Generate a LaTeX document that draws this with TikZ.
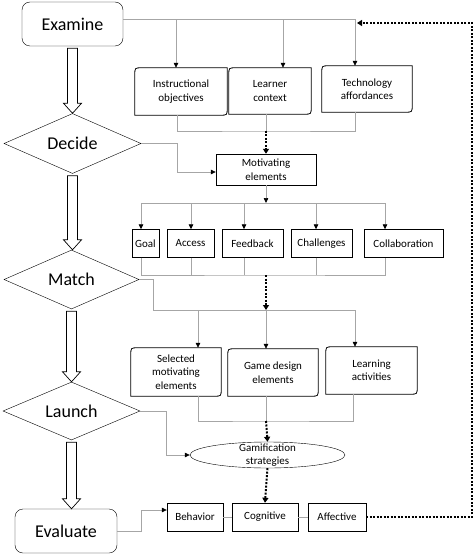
\documentclass[tikz,border=0pt]{standalone}
\usepackage{fontspec}
\setmainfont{Carlito}
\usetikzlibrary{shapes.geometric,arrows.meta,calc}

\newcommand{\hollowarrow}[2]{%
  \draw[line width=0.7pt] let \p1 = (#1.south), \p2 = (#2.north) in
    (\x1-5pt,\y1-2pt) -- (\x1-5pt,\y2+10pt) -- (\x1-9pt,\y2+10pt) -- (\x1,\y2)
    -- (\x1+9pt,\y2+10pt) -- (\x1+5pt,\y2+10pt) -- (\x1+5pt,\y1-2pt) -- cycle;}

\begin{document}
\begin{tikzpicture}[x=1pt, y=-1pt,
    big/.style = {font=\fontsize{18}{20}\selectfont, inner sep=0pt},
    stage/.style = {big, draw, rounded corners=8pt, minimum width=101pt, minimum height=44pt},
    decision/.style = {big, draw, diamond, aspect=2.2, minimum width=137pt, minimum height=60pt},
    small/.style = {font=\fontsize{11}{13.5}\selectfont, align=center, inner sep=1pt},
    cornerbox/.style = {small, minimum height=47pt},
    elem/.style = {small, draw, minimum height=28pt},
    line/.style = {draw=gray!70, line width=0.7pt},
    arr/.style = {line, -{Triangle[length=5pt, width=4.5pt, color=black]}},
    dotarr/.style = {line width=2pt, dash pattern=on 2pt off 1.5pt,
                     -{Triangle[length=5pt, width=6pt]}}
    ]
    \useasboundingbox (0,0) rectangle (474,556);

    % stages on the left
    \node[stage] (examine) at (72.5,24) {Examine};
    \node[decision] (decide) at (72.5,143.5) {Decide};
    \node[decision, minimum width=135pt, minimum height=59pt] (match) at (71.5,279.5) {Match};
    \node[decision, minimum height=58pt] (launch) at (71.5,411) {Launch};
    \node[stage, minimum width=102pt] (evaluate) at (66,531) {Evaluate};

    \hollowarrow{examine}{decide}
    \hollowarrow{decide}{match}
    \hollowarrow{match}{launch}
    \hollowarrow{launch}{evaluate}

    % examine
    \node[cornerbox, minimum width=92pt] (instr) at (181,91.5) {Instructional\\objectives};
    \node[cornerbox, minimum width=82pt, minimum height=46pt] (learner) at (270,91) {Learner\\context};
    \node[cornerbox, minimum width=90pt, minimum height=46pt] (tech) at (367,89) {Technology\\affordances};

    % decide
    \node[elem, minimum width=100pt, minimum height=31pt] (motiv) at (266,169.5) {Motivating\\elements};
    \node[elem, minimum width=27pt] (goal) at (145.5,243.5) {Goal};
    \node[elem, minimum width=47pt] (access) at (190.5,243.5) {Access};
    \node[elem, minimum width=61pt] (feedback) at (252.5,243.5) {Feedback};
    \node[elem, minimum width=61pt] (challenges) at (321.5,243.5) {Challenges};
    \node[elem, minimum width=79pt] (collab) at (403.5,243.5) {Collaboration};

    % match
    \node[cornerbox, minimum width=90pt, minimum height=48pt] (select) at (176,372) {Selected\\motivating\\elements};
    \node[cornerbox, minimum width=90pt] (game) at (273,372.5) {Game design\\elements};
    \node[cornerbox, minimum width=91pt] (learnact) at (371.5,370.5) {Learning\\activities};

    % launch
    \node[draw, ellipse, minimum width=155pt, minimum height=26pt, inner sep=0pt,
          label={[small]center:Gamification\\strategies}] (gamif) at (267.5,455) {};

    % evaluate
    \node[elem, minimum width=56pt] (behavior) at (195,517) {Behavior};
    \node[elem, minimum width=66pt] (cognitive) at (265,517) {Cognitive};
    \node[elem, minimum width=58pt] (affective) at (337,517) {Affective};

    % boxes rounded at two corners
    \foreach \n in {instr,learner,tech,select,game,learnact}
        \draw[line width=0.8pt] (\n.south west) -- ([yshift=-7pt]\n.north west)
            .. controls (\n.north west) .. ([xshift=7pt]\n.north west) -- (\n.north east)
            -- ([yshift=7pt]\n.south east) .. controls (\n.south east) .. ([xshift=-7pt]\n.south east)
            -- cycle;

    % connectors
    \coordinate (ex1) at ([yshift=5pt]examine.east);
    \foreach \b/\x in {instr/176, learner/283, tech/355}
        \draw[arr] (ex1) -| (\b.north -| \x,0);

    \coordinate (b1) at (266,131);
    \draw[line] (instr.south -| 177,0) |- (b1) -| (tech.south -| 355,0);
    \draw[line] (learner.south -| 266,0) -- (b1);
    \draw[dotarr] (b1) -- (motiv.north);

    \coordinate (d1) at (177,172);
    \draw[arr] (decide.east) -| (d1) -- (d1 -| motiv.west);

    \coordinate (m1) at (266,203);
    \draw[arr] (motiv.south) -- (m1);
    \foreach \b/\x in {goal/141, access/191, feedback/244, challenges/316, collab/385}
        \draw[arr] (m1) -| (\b.north -| \x,0);

    \coordinate (m2) at (266,275);
    \draw[line] (goal.south -| 141,0) |- (m2) -| (collab.south -| 385,0);
    \foreach \b/\x in {access/191, feedback/244, challenges/316}
        \draw[line] (\b.south -| \x,0) -- (\x,275);

    \coordinate (m3) at (266,310);
    \coordinate (ma1) at (153,310);
    \draw[line] (match.east) -| (ma1) -- (355,310);
    \draw[dotarr] (m2) -- (m3);
    \foreach \b/\x in {select/198, game/266, learnact/355}
        \draw[arr] (\x,310) -- (\b.north -| \x,0);

    \coordinate (m4) at (266,421);
    \draw[line] (select.south -| 198,0) |- (m4) -| (learnact.south -| 353,0);
    \draw[line] (game.south -| 266,0) -- (m4);
    \draw[dotarr] (m4) -- (gamif.north);

    \draw[arr] (launch.east) -| (gamif.west -| 166,0) -- (gamif.west);
    \draw[dotarr] (gamif.south) -- (cognitive.north);

    \coordinate (ev1) at (141,510);
    \draw[arr] (evaluate.east) -| (ev1) -- (ev1 -| behavior.west);
    \draw[line] (behavior) -- (cognitive);
    \draw[line] (cognitive) -- (affective);

    \coordinate (back) at (357,23);
    \draw[dotarr] (affective.east) -| (back -| 472,0) -- (back);
\end{tikzpicture}
\end{document}
